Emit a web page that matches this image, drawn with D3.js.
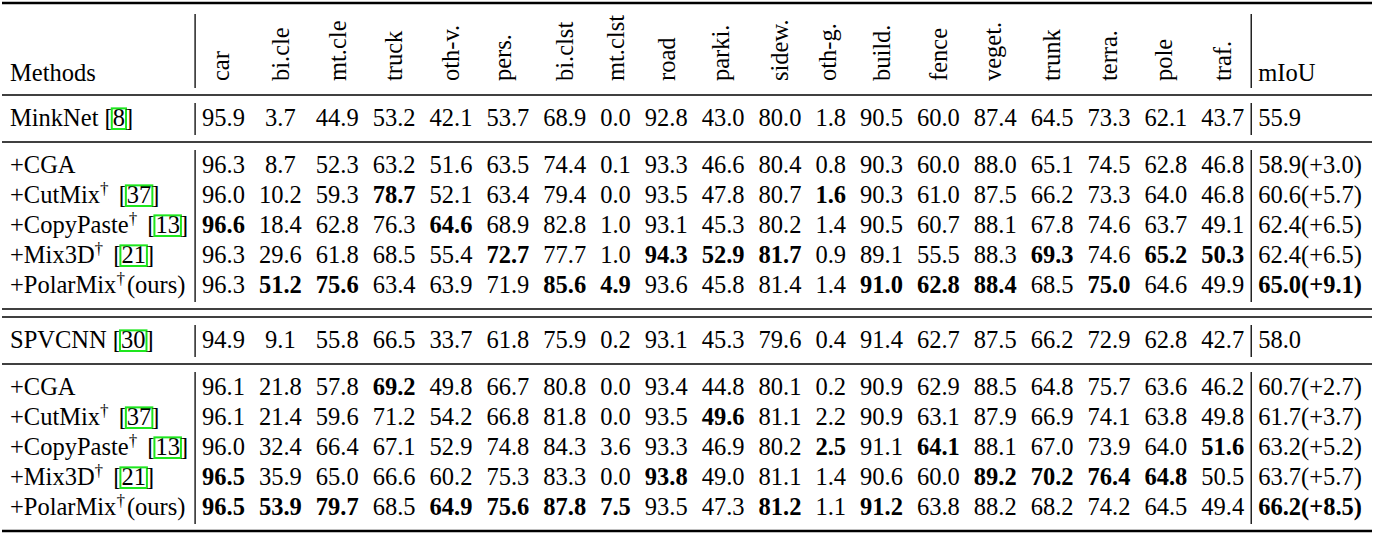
<!DOCTYPE html>
<html>
<head>
<meta charset="utf-8">
<script src="https://cdn.jsdelivr.net/npm/d3@7"></script>
<style>
html, body { margin: 0; padding: 0; background: #fff; }
svg { display: block; }
text { font-family: "Liberation Serif", "Times New Roman", serif; fill: #000; }
</style>
</head>
<body>
<svg id="chart"></svg>
<script>
// column names (rotated header)
const classes = ["car", "bi.cle", "mt.cle", "truck", "oth-v.", "pers.", "bi.clst", "mt.clst", "road",
    "parki.", "sidew.", "oth-g.", "build.", "fence", "veget.", "trunk", "terra.", "pole", "traf."];

// row labels
const methods = [
    { name: "MinkNet", cite: "8" },
    { name: "+CGA" },
    { name: "+CutMix", dag: true, cite: "37" },
    { name: "+CopyPaste", dag: true, cite: "13" },
    { name: "+Mix3D", dag: true, cite: "21" },
    { name: "+PolarMix", dag: true, suffix: "(ours)" },
    { name: "SPVCNN", cite: "30" },
    { name: "+CGA" },
    { name: "+CutMix", dag: true, cite: "37" },
    { name: "+CopyPaste", dag: true, cite: "13" },
    { name: "+Mix3D", dag: true, cite: "21" },
    { name: "+PolarMix", dag: true, suffix: "(ours)" },
];

// per-class IoU
const scores = [
    [95.9, 3.7, 44.9, 53.2, 42.1, 53.7, 68.9, 0.0, 92.8, 43.0, 80.0, 1.8, 90.5, 60.0, 87.4, 64.5, 73.3, 62.1, 43.7],
    [96.3, 8.7, 52.3, 63.2, 51.6, 63.5, 74.4, 0.1, 93.3, 46.6, 80.4, 0.8, 90.3, 60.0, 88.0, 65.1, 74.5, 62.8, 46.8],
    [96.0, 10.2, 59.3, 78.7, 52.1, 63.4, 79.4, 0.0, 93.5, 47.8, 80.7, 1.6, 90.3, 61.0, 87.5, 66.2, 73.3, 64.0, 46.8],
    [96.6, 18.4, 62.8, 76.3, 64.6, 68.9, 82.8, 1.0, 93.1, 45.3, 80.2, 1.4, 90.5, 60.7, 88.1, 67.8, 74.6, 63.7, 49.1],
    [96.3, 29.6, 61.8, 68.5, 55.4, 72.7, 77.7, 1.0, 94.3, 52.9, 81.7, 0.9, 89.1, 55.5, 88.3, 69.3, 74.6, 65.2, 50.3],
    [96.3, 51.2, 75.6, 63.4, 63.9, 71.9, 85.6, 4.9, 93.6, 45.8, 81.4, 1.4, 91.0, 62.8, 88.4, 68.5, 75.0, 64.6, 49.9],
    [94.9, 9.1, 55.8, 66.5, 33.7, 61.8, 75.9, 0.2, 93.1, 45.3, 79.6, 0.4, 91.4, 62.7, 87.5, 66.2, 72.9, 62.8, 42.7],
    [96.1, 21.8, 57.8, 69.2, 49.8, 66.7, 80.8, 0.0, 93.4, 44.8, 80.1, 0.2, 90.9, 62.9, 88.5, 64.8, 75.7, 63.6, 46.2],
    [96.1, 21.4, 59.6, 71.2, 54.2, 66.8, 81.8, 0.0, 93.5, 49.6, 81.1, 2.2, 90.9, 63.1, 87.9, 66.9, 74.1, 63.8, 49.8],
    [96.0, 32.4, 66.4, 67.1, 52.9, 74.8, 84.3, 3.6, 93.3, 46.9, 80.2, 2.5, 91.1, 64.1, 88.1, 67.0, 73.9, 64.0, 51.6],
    [96.5, 35.9, 65.0, 66.6, 60.2, 75.3, 83.3, 0.0, 93.8, 49.0, 81.1, 1.4, 90.6, 60.0, 89.2, 70.2, 76.4, 64.8, 50.5],
    [96.5, 53.9, 79.7, 68.5, 64.9, 75.6, 87.8, 7.5, 93.5, 47.3, 81.2, 1.1, 91.2, 63.8, 88.2, 68.2, 74.2, 64.5, 49.4],
];

// column indices printed in bold, per row
const boldCells = [
    [], [], [3, 11], [0, 4], [5, 8, 9, 10, 15, 17, 18], [1, 2, 6, 7, 12, 13, 14, 16],
    [], [3], [9], [11, 13, 18], [0, 8, 14, 15, 16, 17], [0, 1, 2, 4, 5, 6, 7, 10, 12],
];

const miou = [55.9, 58.9, 60.6, 62.4, 62.4, 65.0, 58.0, 60.7, 61.7, 63.2, 63.7, 66.2];
const gain = [null, 3.0, 5.7, 6.5, 6.5, 9.1, null, 2.7, 3.7, 5.2, 5.7, 8.5];
const miouBold = [false, false, false, false, false, true, false, false, false, false, false, true];

// rows per block; a double rule follows block index 1
const groups = [1, 5, 1, 5];


const W = 1376, H = 536;
const fs = 24.5;
const pad = 7;
const pitch = 30;
const above = 31;   // rule -> first baseline
const below = 16;   // last baseline -> rule
const left = 3;
const topRule = 3;
const headerBase = 81;
const headerRule = 95;

const fmt = d3.format(".1f");
const miouText = (i) => fmt(miou[i]) + (gain[i] == null ? "" : "(+" + fmt(gain[i]) + ")");

const svg = d3.select("#chart").attr("width", W).attr("height", H);

const measure = svg.append("text").attr("visibility", "hidden");
function textW(s, bold, size) {
    measure.attr("font-size", size || fs).attr("font-weight", bold ? "bold" : "normal").text(s);
    return measure.node().getComputedTextLength();
}

function labelPieces(lab) {
    const p = [{ t: lab.name }];
    if (lab.dag) { p.push({ t: "\u2020", sup: true }); p.push({ gap: 0.08 }); }
    if (lab.cite) {
        p.push({ gap: lab.dag ? 0.33 : 0.25 });
        p.push({ t: "[" });
        p.push({ t: lab.cite, box: true });
        p.push({ t: "]" });
    }
    if (lab.suffix) p.push({ t: lab.suffix });
    return p;
}

function labelWidth(lab) {
    return d3.sum(labelPieces(lab), p => p.gap ? p.gap * fs : textW(p.t, false, p.sup ? fs * 0.7 : fs));
}

//COLUMN WIDTHS FROM THE TEXT
const methodW = d3.max(methods, labelWidth) + 2 * pad;
const colW = classes.map((c, j) => d3.max(scores, (row, i) => textW(fmt(row[j]), boldCells[i].includes(j))) + 2 * pad);
const miouW = d3.max(miou, (d, i) => textW(miouText(i), miouBold[i])) + 2 * pad;

const sepX1 = left + methodW;
const centers = [];
let cx = sepX1;
colW.forEach(w => { centers.push(cx + w / 2); cx += w; });
const sepX2 = cx;
const right = sepX2 + miouW;

const xScale = d3.scaleOrdinal().domain(d3.range(classes.length)).range(centers);

//ROW BASELINES AND RULES
const baselines = [];
const rules = [{ y: topRule, w: 2.4 }, { y: headerRule, w: 1.4 }];
const blockSpans = [[topRule, headerRule]];
let y = headerRule;
groups.forEach((n, gi) => {
    const start = y;
    let b = y + above;
    for (let k = 0; k < n; k++) { baselines.push(b); b += pitch; }
    y = b - pitch + below;
    blockSpans.push([start, y]);
    const last = gi == groups.length - 1;
    rules.push({ y: y, w: last ? 2.4 : 1.4 });
    if (gi == 1) { y += 8; rules.push({ y: y, w: 1.4 }); }
});
const yScale = d3.scaleOrdinal().domain(d3.range(methods.length)).range(baselines);

//RULES
svg.append("g").selectAll("line")
    .data(rules)
    .join("line")
    .attr("x1", left - 1).attr("x2", right + 3)
    .attr("y1", d => d.y).attr("y2", d => d.y)
    .attr("stroke", "#000")
    .attr("stroke-width", d => d.w);

//VERTICAL SEPARATORS
const vlines = svg.append("g");
blockSpans.forEach((s, i) => {
    [sepX1, sepX2].forEach(x => {
        vlines.append("line")
            .attr("x1", x).attr("x2", x)
            .attr("y1", s[0] + (i == 0 ? 11 : 8)).attr("y2", s[1] - 7)
            .attr("stroke", "#000")
            .attr("stroke-width", 1.3);
    });
});

//HEADER
svg.append("text")
    .attr("x", left + pad).attr("y", headerBase)
    .attr("font-size", fs)
    .text("Methods");

svg.append("g").selectAll("text")
    .data(classes)
    .join("text")
    .attr("font-size", fs)
    .attr("transform", (d, j) => {
        const asc = /[bdfhiklt]/.test(d) ? 0.68 : 0.46;
        const desc = /[gpqyj]/.test(d) ? 0.22 : 0;
        return `translate(${xScale(j) + (asc - desc) / 2 * fs},${headerBase}) rotate(-90)`;
    })
    .text(d => d);

svg.append("text")
    .attr("x", sepX2 + pad).attr("y", headerBase)
    .attr("font-size", fs)
    .text("mIoU");

//ROW LABELS
const labels = svg.append("g");
methods.forEach((lab, i) => {
    let x = left + pad;
    const base = yScale(i);
    labelPieces(lab).forEach(p => {
        if (p.gap) { x += p.gap * fs; return; }
        const size = p.sup ? fs * 0.7 : fs;
        const w = textW(p.t, false, size);
        labels.append("text")
            .attr("x", x)
            .attr("y", p.sup ? base - fs * 0.36 : base)
            .attr("font-size", size)
            .text(p.t);
        if (p.box) {
            labels.append("rect")
                .attr("x", x - 1).attr("y", base - fs * 0.72)
                .attr("width", w + 2).attr("height", fs * 0.72 + 3)
                .attr("fill", "none")
                .attr("stroke", "#1ee61e")
                .attr("stroke-width", 2);
        }
        x += w;
    });
});

//CELLS
const cells = [];
scores.forEach((row, i) => row.forEach((v, j) => cells.push({ i, j, v, bold: boldCells[i].includes(j) })));

svg.append("g").selectAll("text")
    .data(cells)
    .join("text")
    .attr("x", d => xScale(d.j))
    .attr("y", d => yScale(d.i))
    .attr("text-anchor", "middle")
    .attr("font-size", fs)
    .attr("font-weight", d => d.bold ? "bold" : "normal")
    .text(d => fmt(d.v));

svg.append("g").selectAll("text")
    .data(miou)
    .join("text")
    .attr("x", sepX2 + pad)
    .attr("y", (d, i) => yScale(i))
    .attr("font-size", fs)
    .attr("font-weight", (d, i) => miouBold[i] ? "bold" : "normal")
    .text((d, i) => miouText(i));

measure.remove();
</script>
</body>
</html>
